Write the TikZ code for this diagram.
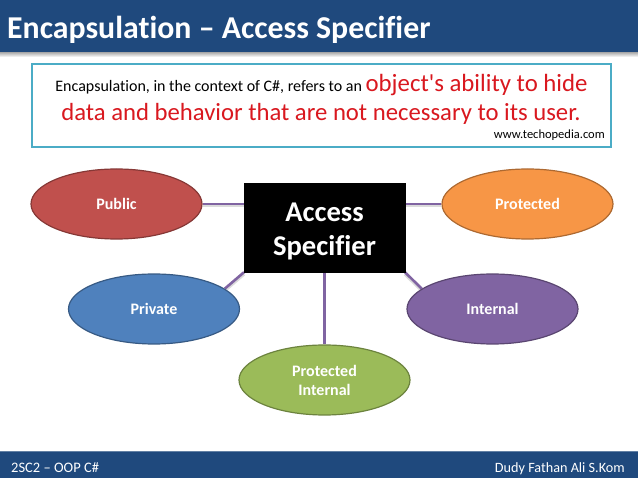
\documentclass[tikz,border=0pt]{standalone}
\usepackage{fontspec}
\setmainfont[Ligatures=NoCommon]{Carlito}
\usetikzlibrary{shapes.geometric}
\definecolor{barblue}{HTML}{1F497D}
\definecolor{linkpurple}{HTML}{8064A2}
\definecolor{frameblue}{HTML}{4BACC6}
\definecolor{redred}{HTML}{D9181F}
\definecolor{ovalred}{HTML}{C0504D}
\definecolor{ovalorange}{HTML}{F79646}
\definecolor{ovalblue}{HTML}{4F81BD}
\definecolor{ovalpurple}{HTML}{8064A2}
\definecolor{ovalgreen}{HTML}{9BBB59}
\pgfdeclarelayer{back}
\pgfsetlayers{back,main}
\tikzset{
  oval/.style={ellipse,draw=#1!70!black,fill=#1,line width=1.2pt,minimum width=171pt,minimum height=70pt,inner sep=0pt,text=white,font=\bfseries\fontsize{16}{19}\selectfont,align=center},
  link/.style={draw=linkpurple,line width=2.6pt},
  linkshade/.style={draw=black!14,line width=3pt,transform canvas={yshift=-2pt}},
  bartext/.style={text=white,inner sep=0pt,anchor=base west}
}
\begin{document}
\begin{tikzpicture}[x=1pt,y=-1pt]
\useasboundingbox (0,0) rectangle (638,478);
% bars
\shade[top color=black!35,bottom color=white] (0,52) rectangle (638,57);
\fill[barblue] (0,0) rectangle (638,52);
\fill[barblue] (0,452) rectangle (638,478);
\draw[barblue!70!white,line width=.8pt] (0,451.6) -- (638,451.6);
\node[bartext,font=\bfseries\fontsize{31.8}{36}\selectfont] (title) at (7,39) {Encapsulation – Access Specifier};
\node[bartext,font=\fontsize{14.5}{18}\selectfont] (footl) at (11,473) {2SC2 – OOP C\#};
\node[text=white,inner sep=0pt,anchor=base east,font=\fontsize{14.2}{18}\selectfont] (footr) at (625,473) {Dudy Fathan Ali S.Kom};
% definition box
\node[draw=frameblue,line width=1.6pt,fill=white,minimum width=579pt,minimum height=83pt,inner sep=0pt] (defbox) at (321.5,105.5) {};
\node[inner sep=0pt,anchor=base] (line1) at (321.5,92) {\fontsize{16}{20}\selectfont Encapsulation, in the context of C\#, refers to an \textcolor{redred}{\fontsize{24.8}{28}\selectfont object\textquotesingle s ability to hide}};
\node[inner sep=0pt,anchor=base,text=redred,font=\fontsize{24.7}{28}\selectfont] (line2) at (321,121) {data and behavior that are not necessary to its user.};
\node[inner sep=0pt,anchor=base east,font=\fontsize{12.5}{16}\selectfont] (src) at (605,139) {www.techopedia.com};
% nodes
\node[fill=black,draw=black,minimum width=160.5pt,minimum height=89pt,inner sep=0pt,text=white,align=center,font=\bfseries\fontsize{28.6}{34}\selectfont] (box) at (324.5,227.5) {\rule{0pt}{27pt}Access\\Specifier};
\node[oval=ovalred] (public) at (116.5,204) {Public};
\node[oval=ovalorange] (protected) at (527.5,204) {Protected};
\node[oval=ovalblue] (private) at (154,309) {Private};
\node[oval=ovalpurple] (internal) at (492.5,309) {Internal};
\node[oval=ovalgreen] (protint) at (324.5,380) {Protected\\Internal};
% connectors, behind the nodes
\begin{pgfonlayer}{back}
\path[linkshade] (public.east) -- (public.east -| box.west);
\path[linkshade] (protected.west) -- (protected.west -| box.east);
\path[linkshade] (box.south west) -- (private.16);
\path[linkshade] (box.south east) -- (internal.164);
\path[link] (public.east) -- (public.east -| box.west);
\path[link] (protected.west) -- (protected.west -| box.east);
\path[link] (box.south west) -- (private.16);
\path[link] (box.south east) -- (internal.164);
\path[link] (box.south) -- (protint.north);
\end{pgfonlayer}
\end{tikzpicture}
\end{document}
